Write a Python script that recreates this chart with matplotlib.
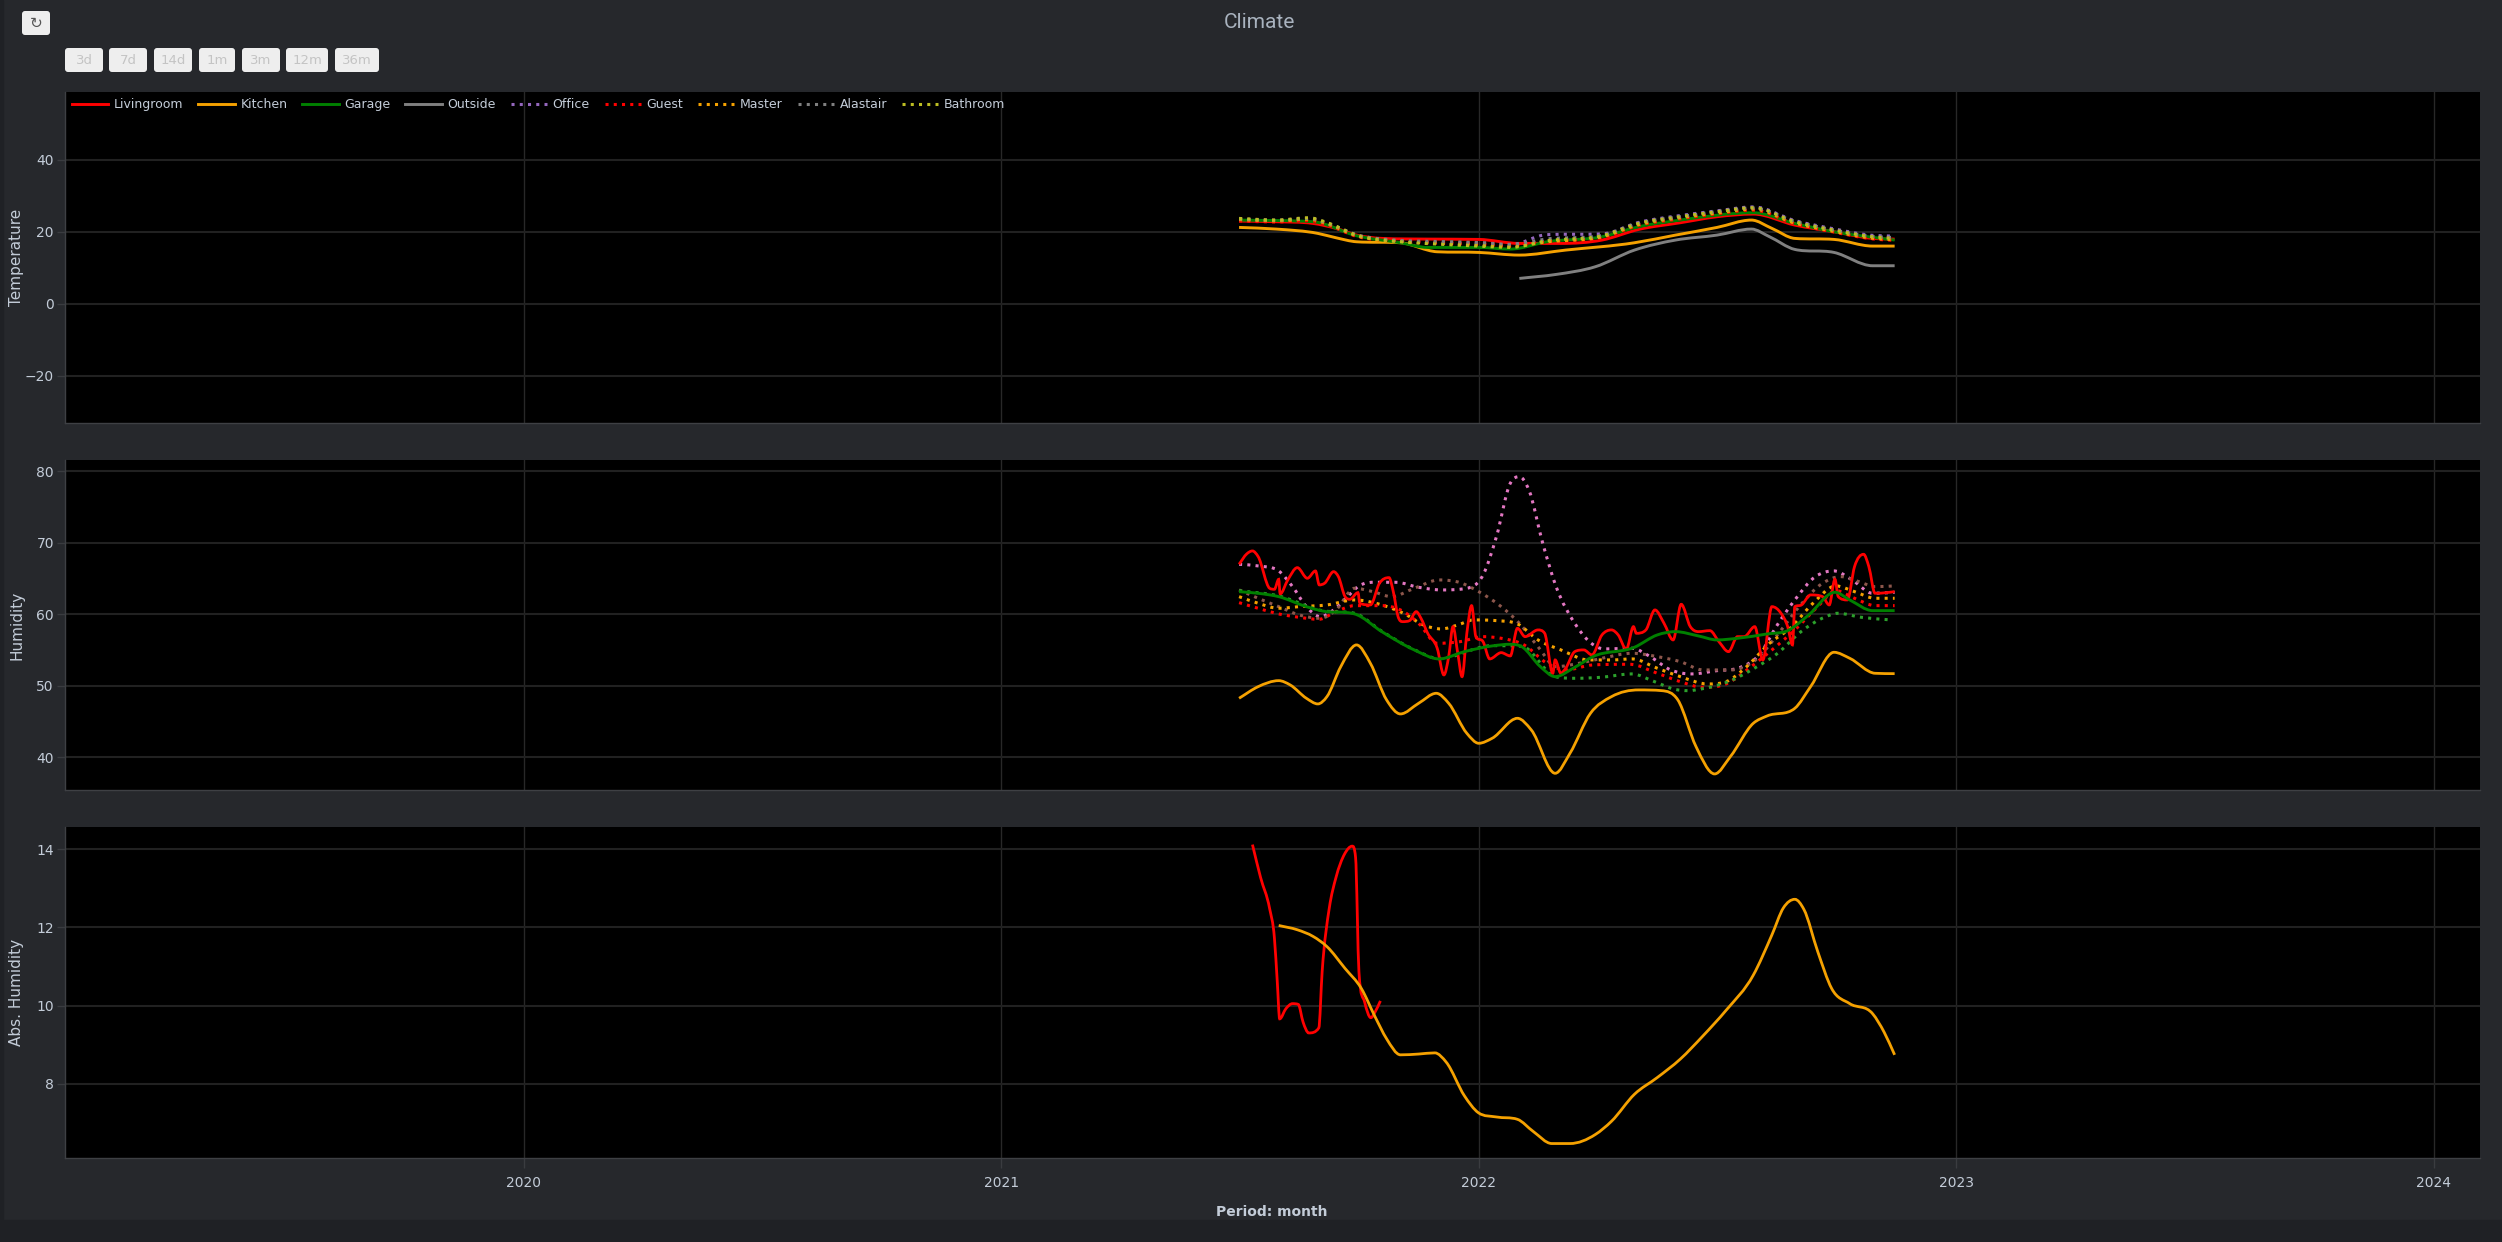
import matplotlib
matplotlib.use('Agg')
from matplotlib import pyplot as plt
from matplotlib.lines import Line2D
from matplotlib.patches import PathPatch, Rectangle, FancyBboxPatch
from matplotlib.path import Path
from matplotlib.transforms import blended_transform_factory
import numpy as np

# Temperature panel
temp_kitchen_x = [2021.498, 2021.576, 2021.663, 2021.701, 2021.744, 2021.836, 2021.913, 2022.0, 2022.085, 2022.182, 2022.326, 2022.412, 2022.499, 2022.571, 2022.614, 2022.662, 2022.744, 2022.825, 2022.871]
temp_kitchen = [21.2, 20.74, 19.54, 18.33, 17.22, 16.94, 14.44, 14.26, 13.52, 14.91, 16.94, 19.07, 21.2, 23.24, 20.93, 18.15, 17.87, 16.02, 16.02]
temp_outside_x = [2022.085, 2022.162, 2022.244, 2022.326, 2022.412, 2022.499, 2022.571, 2022.609, 2022.662, 2022.744, 2022.825, 2022.871]
temp_outside = [7.04, 8.15, 10.28, 14.91, 17.69, 19.07, 20.74, 18.61, 15.09, 14.26, 10.56, 10.56]
temp_living_x = [2021.498, 2021.576, 2021.653, 2021.701, 2021.744, 2021.797, 2021.893, 2022.0, 2022.085, 2022.172, 2022.258, 2022.335, 2022.422, 2022.499, 2022.575, 2022.662, 2022.744, 2022.825, 2022.871]
temp_living = [22.96, 22.78, 22.31, 20.93, 19.07, 18.15, 17.96, 17.87, 16.76, 16.76, 17.69, 20.65, 22.5, 24.17, 24.91, 21.85, 20.0, 18.15, 17.96]
temp_garage_x = [2021.498, 2021.653, 2021.744, 2021.836, 2021.893, 2022.0, 2022.066, 2022.143, 2022.258, 2022.335, 2022.422, 2022.575, 2022.662, 2022.744, 2022.871]
temp_garage = [23.24, 22.78, 18.89, 16.94, 15.65, 15.65, 15.19, 17.22, 18.61, 21.39, 23.24, 25.28, 22.31, 20.0, 17.69]
temp_rooms_x = [2021.498, 2021.576, 2021.644, 2021.687, 2021.744, 2021.836, 2021.913, 2022.0, 2022.066, 2022.143, 2022.258, 2022.335, 2022.422, 2022.499, 2022.575, 2022.662, 2022.744, 2022.825, 2022.871]
temp_office = [23.5, 23.1, 23.6, 22.1, 19.0, 17.4, 16.9, 16.9, 16.4, 19.2, 19.4, 22.6, 24.5, 25.8, 26.9, 23.1, 20.8, 19.0, 18.8]
temp_guest = [23.0, 22.7, 23.1, 21.7, 18.7, 17.5, 17.0, 16.6, 16.2, 17.4, 18.4, 21.8, 23.6, 25.0, 26.0, 22.2, 19.9, 18.0, 17.6]
temp_master = [23.4, 23.0, 23.5, 22.0, 18.9, 17.3, 16.8, 16.3, 15.9, 17.2, 18.6, 22.0, 23.9, 25.2, 26.3, 22.4, 20.1, 18.2, 17.8]
temp_alastair = [23.6, 23.2, 23.7, 22.2, 19.2, 17.6, 17.3, 17.0, 16.5, 18.0, 19.0, 22.4, 24.2, 25.6, 26.6, 22.9, 20.5, 18.7, 18.4]
temp_bathroom = [23.7, 23.24, 23.89, 22.31, 19.07, 17.22, 16.57, 16.02, 15.65, 17.5, 18.89, 22.31, 24.17, 25.56, 26.67, 22.78, 20.46, 18.61, 18.15]

# Humidity panel
hum_kitchen_x = [2021.498, 2021.538, 2021.581, 2021.605, 2021.639, 2021.663, 2021.682, 2021.711, 2021.744, 2021.773, 2021.807, 2021.836, 2021.874, 2021.911, 2021.937, 2021.975, 2022.0, 2022.028, 2022.081, 2022.11, 2022.16, 2022.191, 2022.234, 2022.278, 2022.335, 2022.383, 2022.417, 2022.455, 2022.494, 2022.527, 2022.575, 2022.604, 2022.662, 2022.695, 2022.744, 2022.777, 2022.83, 2022.871]
hum_kitchen = [48.24, 49.87, 50.71, 50.11, 48.24, 47.45, 48.47, 52.67, 55.71, 53.14, 48.01, 46.05, 47.54, 48.94, 47.54, 43.34, 41.94, 42.64, 45.44, 43.81, 37.74, 40.54, 46.14, 48.47, 49.41, 49.31, 48.01, 41.48, 37.65, 40.08, 44.74, 45.77, 46.84, 49.87, 54.68, 53.84, 51.74, 51.69]
hum_living_x = [2021.498, 2021.514, 2021.526, 2021.538, 2021.562, 2021.572, 2021.581, 2021.584, 2021.6, 2021.62, 2021.641, 2021.658, 2021.666, 2021.677, 2021.696, 2021.706, 2021.72, 2021.73, 2021.747, 2021.751, 2021.773, 2021.792, 2021.812, 2021.821, 2021.831, 2021.841, 2021.855, 2021.869, 2021.879, 2021.893, 2021.913, 2021.927, 2021.937, 2021.946, 2021.956, 2021.965, 2021.975, 2021.985, 2021.994, 2022.009, 2022.023, 2022.047, 2022.066, 2022.081, 2022.097, 2022.124, 2022.138, 2022.155, 2022.16, 2022.172, 2022.182, 2022.201, 2022.22, 2022.237, 2022.258, 2022.278, 2022.292, 2022.309, 2022.324, 2022.33, 2022.35, 2022.369, 2022.388, 2022.407, 2022.424, 2022.443, 2022.46, 2022.484, 2022.503, 2022.523, 2022.542, 2022.556, 2022.578, 2022.595, 2022.614, 2022.633, 2022.647, 2022.657, 2022.662, 2022.676, 2022.695, 2022.72, 2022.734, 2022.746, 2022.753, 2022.772, 2022.787, 2022.806, 2022.817, 2022.83, 2022.854, 2022.871]
hum_living = [67.0, 68.45, 68.87, 68.07, 63.64, 63.5, 64.9, 62.85, 64.81, 66.53, 65.04, 66.07, 64.11, 64.34, 65.97, 65.27, 62.47, 62.1, 63.03, 61.54, 61.31, 64.34, 65.13, 63.17, 59.67, 58.97, 59.11, 60.37, 59.44, 57.34, 55.24, 51.51, 54.07, 58.27, 54.54, 51.27, 57.34, 61.21, 56.87, 56.17, 53.75, 54.63, 54.17, 58.04, 56.87, 57.81, 57.34, 51.74, 53.61, 51.74, 52.44, 54.77, 55.01, 54.31, 57.11, 57.81, 57.11, 55.1, 58.27, 57.34, 57.81, 60.61, 58.74, 56.41, 61.4, 58.27, 57.57, 57.71, 56.17, 54.77, 56.87, 56.87, 58.27, 53.61, 61.07, 60.14, 58.27, 55.71, 61.07, 61.31, 62.71, 62.47, 61.31, 64.9, 62.47, 62.01, 66.67, 68.4, 66.67, 62.94, 63.03, 63.17]
hum_garage_x = [2021.498, 2021.538, 2021.581, 2021.639, 2021.672, 2021.74, 2021.797, 2021.865, 2021.917, 2021.97, 2022.028, 2022.066, 2022.09, 2022.129, 2022.16, 2022.201, 2022.239, 2022.326, 2022.374, 2022.412, 2022.46, 2022.499, 2022.542, 2022.604, 2022.647, 2022.691, 2022.746, 2022.777, 2022.825, 2022.871]
hum_garage = [63.17, 62.94, 62.47, 61.07, 60.47, 60.05, 57.57, 55.01, 53.75, 54.77, 55.57, 55.8, 55.47, 52.67, 51.27, 52.58, 54.07, 55.38, 57.11, 57.57, 56.97, 56.41, 56.64, 57.25, 57.71, 59.91, 63.08, 62.01, 60.51, 60.51]
hum_office_x = [2021.498, 2021.538, 2021.581, 2021.61, 2021.639, 2021.668, 2021.696, 2021.725, 2021.749, 2021.783, 2021.826, 2021.874, 2021.922, 2021.975, 2022.009, 2022.037, 2022.066, 2022.085, 2022.105, 2022.134, 2022.162, 2022.201, 2022.234, 2022.263, 2022.321, 2022.359, 2022.402, 2022.446, 2022.499, 2022.542, 2022.59, 2022.623, 2022.662, 2022.705, 2022.744, 2022.782, 2022.825, 2022.871]
hum_office = [67.0, 66.77, 66.07, 63.87, 61.07, 59.67, 60.61, 62.47, 63.97, 64.48, 64.48, 63.78, 63.41, 63.64, 65.51, 70.87, 78.34, 79.27, 77.4, 69.94, 63.87, 58.74, 56.03, 55.15, 55.24, 54.07, 52.21, 51.65, 52.11, 52.44, 54.54, 58.27, 62.01, 65.27, 66.07, 64.81, 62.94, 63.08]
hum_alastair_x = [2021.498, 2021.538, 2021.581, 2021.624, 2021.668, 2021.701, 2021.74, 2021.778, 2021.817, 2021.865, 2021.917, 2021.961, 2022.0, 2022.047, 2022.085, 2022.124, 2022.162, 2022.21, 2022.258, 2022.321, 2022.374, 2022.422, 2022.47, 2022.527, 2022.58, 2022.628, 2022.671, 2022.72, 2022.758, 2022.796, 2022.83, 2022.871]
hum_alastair = [63.41, 62.24, 61.07, 59.91, 59.44, 60.61, 63.64, 63.17, 62.47, 63.64, 64.81, 64.43, 63.17, 61.07, 58.74, 55.47, 52.67, 53.14, 53.84, 54.54, 54.07, 53.37, 52.21, 52.21, 53.61, 57.34, 61.07, 64.34, 65.27, 64.57, 63.87, 63.97]
hum_master_x = [2021.498, 2021.538, 2021.581, 2021.624, 2021.682, 2021.74, 2021.797, 2021.845, 2021.884, 2021.922, 2021.956, 2021.989, 2022.037, 2022.081, 2022.124, 2022.172, 2022.23, 2022.278, 2022.321, 2022.374, 2022.422, 2022.479, 2022.518, 2022.561, 2022.609, 2022.652, 2022.7, 2022.748, 2022.787, 2022.83, 2022.871]
hum_master = [62.47, 61.54, 60.84, 61.07, 61.31, 62.01, 61.31, 60.05, 58.51, 57.95, 58.51, 59.21, 59.11, 58.65, 56.41, 55.01, 53.61, 53.61, 53.75, 52.44, 51.27, 50.25, 50.57, 52.67, 55.94, 58.04, 61.54, 63.97, 63.17, 62.24, 62.24]
hum_guest_x = [2021.498, 2021.538, 2021.581, 2021.624, 2021.665, 2021.701, 2021.74, 2021.797, 2021.836, 2021.874, 2021.913, 2021.961, 2022.009, 2022.047, 2022.095, 2022.143, 2022.182, 2022.239, 2022.316, 2022.374, 2022.422, 2022.47, 2022.518, 2022.566, 2022.614, 2022.662, 2022.71, 2022.748, 2022.787, 2022.83, 2022.871]
hum_guest = [61.63, 60.84, 60.05, 59.58, 59.3, 60.37, 61.21, 61.21, 60.61, 58.74, 55.94, 56.17, 56.87, 56.64, 55.71, 53.14, 52.21, 52.91, 53.0, 51.74, 50.57, 49.78, 50.25, 52.44, 55.01, 57.81, 61.07, 63.31, 62.24, 61.21, 61.21]
hum_bathroom_x = [2021.498, 2021.581, 2021.672, 2021.74, 2021.797, 2021.865, 2021.917, 2022.028, 2022.09, 2022.16, 2022.201, 2022.256, 2022.32, 2022.368, 2022.41, 2022.438, 2022.473, 2022.528, 2022.577, 2022.626, 2022.675, 2022.724, 2022.752, 2022.801, 2022.864]
hum_bathroom = [63.31, 62.57, 60.51, 60.14, 57.62, 55.05, 53.79, 55.61, 55.52, 51.27, 51.04, 51.18, 51.65, 50.57, 49.5, 49.31, 49.64, 50.71, 52.44, 54.54, 57.57, 59.58, 60.14, 59.58, 59.21]

# Abs. humidity panel
abs_living_x = [2021.526, 2021.543, 2021.562, 2021.572, 2021.578, 2021.583, 2021.596, 2021.61, 2021.622, 2021.632, 2021.644, 2021.665, 2021.672, 2021.687, 2021.701, 2021.719, 2021.735, 2021.742, 2021.749, 2021.761, 2021.774, 2021.783, 2021.794]
abs_living = [14.12, 13.28, 12.48, 11.73, 10.61, 9.66, 9.92, 10.05, 10.03, 9.58, 9.3, 9.43, 10.87, 12.5, 13.28, 13.88, 14.08, 13.79, 10.87, 10.09, 9.69, 9.84, 10.12]
abs_kitchen_x = [2021.581, 2021.62, 2021.653, 2021.682, 2021.72, 2021.754, 2021.783, 2021.807, 2021.836, 2021.874, 2021.908, 2021.932, 2021.97, 2021.999, 2022.037, 2022.081, 2022.114, 2022.153, 2022.191, 2022.244, 2022.278, 2022.326, 2022.374, 2022.422, 2022.47, 2022.518, 2022.575, 2022.614, 2022.638, 2022.662, 2022.681, 2022.71, 2022.739, 2022.777, 2022.825, 2022.849, 2022.871]
abs_kitchen = [12.05, 11.94, 11.77, 11.51, 10.95, 10.44, 9.71, 9.15, 8.74, 8.76, 8.79, 8.55, 7.69, 7.26, 7.15, 7.09, 6.78, 6.47, 6.47, 6.7, 7.04, 7.73, 8.16, 8.63, 9.23, 9.88, 10.78, 11.81, 12.5, 12.72, 12.46, 11.38, 10.44, 10.05, 9.79, 9.32, 8.74]

year_ticks = [2020, 2021, 2022, 2023, 2024]
temp_ticks = [-20, 0, 20, 40]
hum_ticks = [40, 50, 60, 70, 80]
abs_ticks = [8, 10, 12, 14]
range_buttons = ['3d', '7d', '14d', '1m', '3m', '12m', '36m']
legend_names = ['Livingroom', 'Kitchen', 'Garage', 'Outside', 'Office', 'Guest', 'Master', 'Alastair', 'Bathroom']

W, H = 2502, 1242
BG = '#26282c'
TXT = '#c3ccd8'
DOT = (0, (1, 1.7))
ORANGE = '#f5a100'
LW_DOT = 2.2


def px_axes(fig, left, top, right, bottom):
    """Axes placed by pixel edges, origin top left."""
    return fig.add_axes([left / W, 1 - bottom / H, (right - left) / W, (bottom - top) / H])


def spline(ax, x, y, color, lw=2.0, ls='-'):
    """Draws a smooth curve through the points, like a spline line shape."""
    x = np.asarray(x, dtype=float)
    y = np.asarray(y, dtype=float)
    m = np.gradient(y, x)
    d = np.diff(y) / np.diff(x)
    # keep the slopes from overshooting next to steep segments
    for i in range(1, len(x) - 1):
        limit = 3 * min(abs(d[i - 1]), abs(d[i]))
        m[i] = 0 if d[i - 1] * d[i] <= 0 else np.clip(m[i], -limit, limit)
    verts = [(x[0], y[0])]
    codes = [Path.MOVETO]
    for i in range(len(x) - 1):
        dx = (x[i + 1] - x[i]) / 3
        verts += [(x[i] + dx, y[i] + m[i] * dx), (x[i + 1] - dx, y[i + 1] - m[i + 1] * dx), (x[i + 1], y[i + 1])]
        codes += [Path.CURVE4, Path.CURVE4, Path.CURVE4]
    ax.add_patch(PathPatch(Path(verts, codes), fill=False, edgecolor=color, linewidth=lw, linestyle=ls, capstyle='butt'))


def style_panel(ax, ylim, yticks, label, show_x=False):
    ax.set_facecolor('black')
    ax.set_xlim(2019.039, 2024.097)
    ax.set_ylim(*ylim)
    ax.set_xticks(year_ticks)
    ax.set_yticks(yticks)
    ax.grid(True, axis='y', color='#212121', linewidth=1.5)
    ax.grid(True, axis='x', color='#282828', linewidth=1.0)
    ax.set_axisbelow(True)
    for side in ['top', 'right']:
        ax.spines[side].set_visible(False)
    for side in ['left', 'bottom']:
        ax.spines[side].set_color('#3e4044')
        ax.spines[side].set_linewidth(1.0)
    ax.tick_params(axis='y', colors=TXT, labelsize=10, length=6, width=1, color='#3a3c40', pad=2)
    ax.tick_params(axis='x', colors=TXT, labelsize=10, length=7 if show_x else 0, width=1, color='#3a3c40',
                   pad=6, labelbottom=show_x)
    for t in ax.get_xticklabels() + ax.get_yticklabels():
        t.set_color(TXT)
    ax.set_ylabel(label, color=TXT, fontsize=11)
    ax.yaxis.set_label_coords(24 / W, 0.5, transform=blended_transform_factory(ax.figure.transFigure, ax.transAxes))


fig = plt.figure(figsize=(W / 100, H / 100), dpi=100, facecolor=BG)
fig.add_artist(Rectangle((0, 0), 1, 22 / H, transform=fig.transFigure, color='#1f2125', zorder=-1))
fig.add_artist(Rectangle((0, 0), 3 / W, 1, transform=fig.transFigure, color='#1f2125', zorder=-1))

ax1 = px_axes(fig, 65, 92, 2480, 423)
ax2 = px_axes(fig, 65, 460, 2480, 790)
ax3 = px_axes(fig, 65, 827, 2480, 1158)
style_panel(ax1, (-33.1, 58.8), temp_ticks, 'Temperature')
style_panel(ax2, (35.4, 81.6), hum_ticks, 'Humidity')
style_panel(ax3, (6.1, 14.57), abs_ticks, 'Abs. Humidity', show_x=True)

# temperature
spline(ax1, temp_living_x, temp_living, '#ff0000', lw=2.1)
spline(ax1, temp_kitchen_x, temp_kitchen, ORANGE, lw=2.1)
spline(ax1, temp_garage_x, temp_garage, '#008000', lw=2.1)
spline(ax1, temp_outside_x, temp_outside, '#808080', lw=2.1)
spline(ax1, temp_rooms_x, temp_office, '#9467bd', lw=LW_DOT, ls=DOT)
spline(ax1, temp_rooms_x, temp_guest, '#ff0000', lw=LW_DOT, ls=DOT)
spline(ax1, temp_rooms_x, temp_master, ORANGE, lw=LW_DOT, ls=DOT)
spline(ax1, temp_rooms_x, temp_alastair, '#7f7f7f', lw=LW_DOT, ls=DOT)
spline(ax1, temp_rooms_x, temp_bathroom, '#bcbd22', lw=LW_DOT, ls=DOT)

# humidity
spline(ax2, hum_office_x, hum_office, '#e377c2', lw=LW_DOT, ls=DOT)
spline(ax2, hum_alastair_x, hum_alastair, '#8c564b', lw=LW_DOT, ls=DOT)
spline(ax2, hum_master_x, hum_master, ORANGE, lw=LW_DOT, ls=DOT)
spline(ax2, hum_guest_x, hum_guest, '#ff0000', lw=LW_DOT, ls=DOT)
spline(ax2, hum_bathroom_x, hum_bathroom, '#2ca02c', lw=LW_DOT, ls=DOT)
spline(ax2, hum_living_x, hum_living, '#ff0000')
spline(ax2, hum_kitchen_x, hum_kitchen, ORANGE)
spline(ax2, hum_garage_x, hum_garage, '#008000', lw=2.1)

# abs humidity
spline(ax3, abs_living_x, abs_living, '#ff0000')
spline(ax3, abs_kitchen_x, abs_kitchen, ORANGE)

handles = [
    Line2D([], [], color='#ff0000', lw=2.1),
    Line2D([], [], color=ORANGE, lw=2.1),
    Line2D([], [], color='#008000', lw=2.1),
    Line2D([], [], color='#808080', lw=2.1),
    Line2D([], [], color='#9467bd', lw=LW_DOT, ls=DOT),
    Line2D([], [], color='#ff0000', lw=LW_DOT, ls=DOT),
    Line2D([], [], color=ORANGE, lw=LW_DOT, ls=DOT),
    Line2D([], [], color='#7f7f7f', lw=LW_DOT, ls=DOT),
    Line2D([], [], color='#bcbd22', lw=LW_DOT, ls=DOT),
]
leg = ax1.legend(handles, legend_names, ncols=9, loc='upper left', bbox_to_anchor=(7 / 2415, 1 - 6 / 331), frameon=False,
                 fontsize=9, labelcolor=TXT, handlelength=2.9, handletextpad=0.45, columnspacing=1.2, borderpad=0, borderaxespad=0)

fig.text(1259 / W, 1 - 22 / H, 'Climate', color='#a9b3bf', fontsize=15, family='Roboto', ha='center', va='center')
fig.text(1272 / W, 1 - 1212 / H, 'Period: month', color=TXT, fontsize=10, ha='center', va='center', fontweight='bold')

# reload and range buttons
btn_edges = [(65, 103), (109, 147), (154, 192), (199, 235), (242, 280), (286, 328), (335, 379)]
for (x0, x1), name in zip(btn_edges, range_buttons):
    fig.add_artist(FancyBboxPatch((x0 + 2, H - 70), x1 - x0 - 4, 20, boxstyle='round,pad=2,rounding_size=3', transform=None,
                                  facecolor='#eeeeee', edgecolor='none'))
    fig.text((x0 + x1) / 2 / W, 1 - 60 / H, name, color='#c4c4c4', fontsize=9.5, ha='center', va='center')
fig.add_artist(FancyBboxPatch((24, H - 33), 24, 20, boxstyle='round,pad=2,rounding_size=3', transform=None,
                              facecolor='#eeeeee', edgecolor='none'))
fig.text(36 / W, 1 - 23 / H, '\u21bb', color='#555555', fontsize=11, ha='center', va='center')

fig.savefig('out.png', dpi=100, facecolor=BG)
